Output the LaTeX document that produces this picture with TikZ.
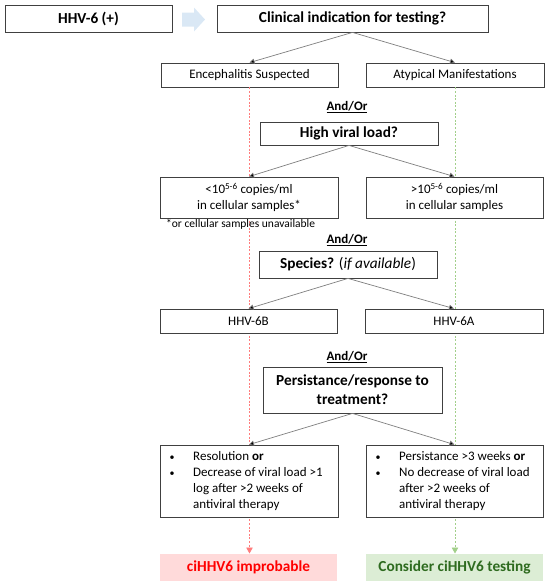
\documentclass[tikz,border=0pt]{standalone}
\usepackage{fontspec}
\setmainfont{Carlito}
\usetikzlibrary{arrows.meta}
\definecolor{boxline}{HTML}{404040}
\definecolor{arrline}{HTML}{7F7F7F}
\definecolor{redline}{HTML}{FF7C7C}
\definecolor{greenline}{HTML}{A2CF8A}
\definecolor{blockblue}{HTML}{DAE8F5}
\definecolor{redfill}{HTML}{FFDADA}
\definecolor{redtext}{HTML}{FF0000}
\definecolor{greenfill}{HTML}{DCEDD5}
\definecolor{greentext}{HTML}{2E6B1F}
\newcommand{\smbul}{{\fontsize{10}{10}\selectfont\textbullet}}
\tikzset{
  box/.style={draw=boxline, line width=0.8pt, fill=white, inner sep=0pt, align=center},
  bigtxt/.style={font=\fontsize{15.3}{19}\selectfont\bfseries},
  medtxt/.style={font=\fontsize{13}{16}\selectfont},
  andor/.style={font=\fontsize{13}{16}\selectfont\bfseries, inner sep=0pt},
  flow/.style={draw=arrline, line width=0.7pt, -{Triangle[length=5pt,width=5pt,fill=black]}},
  reddash/.style={draw=redline, line width=0.8pt, dash pattern=on 2pt off 1.6pt, -{Triangle[length=6pt,width=6.5pt,fill=redline]}},
  greendash/.style={draw=greenline, line width=0.8pt, dash pattern=on 2pt off 1.6pt, -{Triangle[length=6pt,width=6.5pt,fill=greenline]}},
}
\begin{document}
\begin{tikzpicture}[x=1pt,y=-1pt]
\useasboundingbox (0,0) rectangle (550,587);
% boxes
\node[box,bigtxt,minimum width=167pt,minimum height=27pt] (hhv) at (88.5,18.5) {HHV-6 (+)};
\node[box,bigtxt,minimum width=271pt,minimum height=27pt] (clin) at (352.5,18.5) {Clinical indication for testing?};
\node[box,medtxt,minimum width=177pt,minimum height=24pt] (enc) at (249.5,75) {Encephalitis Suspected};
\node[box,medtxt,minimum width=178pt,minimum height=24pt] (aty) at (455,75) {Atypical Manifestations};
% dashed guide lines (behind lower boxes)
\coordinate (fin1top) at (249.5,553.5);
\coordinate (fin2top) at (455,553.5);
\draw[reddash] (enc.south) -- (fin1top);
\draw[greendash] (aty.south) -- (fin2top);
% block arrow
\fill[blockblue] (182,12.5) -- (194,12.5) -- (194,7.5) -- (205,19.5) -- (194,31.5) -- (194,26.5) -- (182,26.5) -- cycle;

\node[andor] (ao1) at (347,107) {\underline{And/Or}};
\node[box,bigtxt,minimum width=178pt,minimum height=23pt] (high) at (349,133.5) {High viral load?};
\node[box,medtxt,minimum width=178pt,minimum height=41pt] (lo) at (249,197.5) {<10\textsuperscript{5-6} copies/ml\\in cellular samples*};
\node[box,medtxt,minimum width=177pt,minimum height=41pt] (hi) at (454.5,197.5) {>10\textsuperscript{5-6} copies/ml\\in cellular samples};
\node[anchor=west,inner sep=0pt,font=\fontsize{11.5}{14}\selectfont] (fn) at (166,224) {*or cellular samples unavailable};

\node[andor] (ao2) at (347,240) {\underline{And/Or}};
\node[box,minimum width=178pt,minimum height=27pt,font=\fontsize{15.3}{19}\selectfont] (spec) at (348,264.5) {\textbf{Species?} (\textit{if available})};
\node[box,medtxt,minimum width=177pt,minimum height=24pt] (b6) at (248.5,321) {HHV-6B};
\node[box,medtxt,minimum width=178pt,minimum height=24pt] (a6) at (454,321) {HHV-6A};

\node[andor] (ao3) at (347,357) {\underline{And/Or}};
\node[box,bigtxt,minimum width=179pt,minimum height=46pt] (pers) at (352.5,390) {Persistance/response to\\treatment?};
\node[box,minimum width=178pt,minimum height=72pt] (resl) at (249,481) {};
\node[box,minimum width=177pt,minimum height=72pt] (resr) at (454.5,481) {};
\node[anchor=west,inner sep=0pt,font=\fontsize{13}{16}\selectfont] (resltxt) at (169.5,481) {%
\begin{tabular}{@{}p{23.5pt}@{}l@{}}
\smbul & Resolution \textbf{or}\\
\smbul & Decrease of viral load >1\\
 & log after >2 weeks of\\
 & antiviral therapy
\end{tabular}};
\node[anchor=west,inner sep=0pt,font=\fontsize{13}{16}\selectfont] (resrtxt) at (375.5,481) {%
\begin{tabular}{@{}p{23.5pt}@{}l@{}}
\smbul & Persistance >3 weeks \textbf{or}\\
\smbul & No decrease of viral load\\
 & after >2 weeks of\\
 & antiviral therapy
\end{tabular}};

\node[draw=none,fill=redfill,inner sep=0pt,minimum width=177pt,minimum height=27pt,font=\fontsize{15.3}{19}\selectfont\bfseries,text=redtext] (fin1) at (248.5,567.5) {ciHHV6 improbable};
\node[draw=none,fill=greenfill,inner sep=0pt,minimum width=177pt,minimum height=27pt,font=\fontsize{15.3}{19}\selectfont\bfseries,text=greentext] (fin2) at (454.5,567.5) {Consider ciHHV6 testing};

% solid arrows
\draw[flow] (clin.south) -- (enc.north);
\draw[flow] (clin.south) -- (aty.north);
\draw[flow] (high.south) -- (lo.north);
\draw[flow] (high.south) -- (hi.north);
\draw[flow] (spec.south) -- (b6.north);
\draw[flow] (spec.south) -- (a6.north);
\draw[flow] (pers.south) -- (resl.north);
\draw[flow] (pers.south) -- (resr.north);
\end{tikzpicture}
\end{document}
